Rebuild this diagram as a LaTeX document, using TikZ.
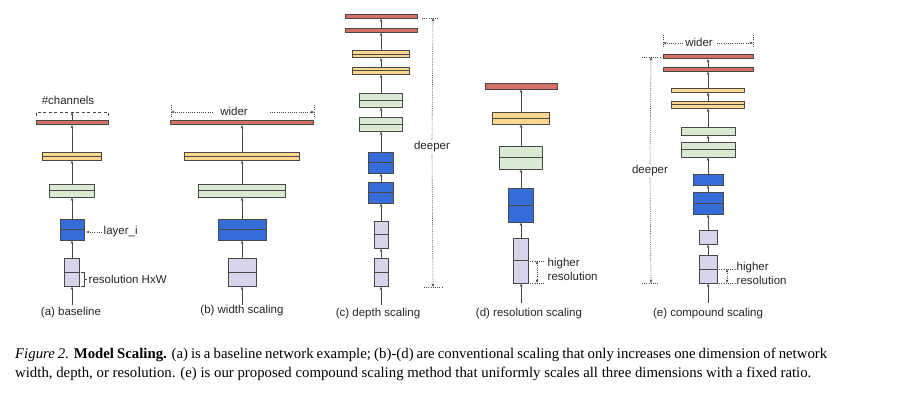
\documentclass[tikz,border=0pt]{standalone}
\usepackage{fontspec}
\setmainfont{Liberation Serif}
\setsansfont{Liberation Sans}
\usetikzlibrary{arrows.meta}
\definecolor{redL}{RGB}{214,112,100}
\definecolor{yelL}{RGB}{253,216,140}
\definecolor{grnL}{RGB}{217,234,211}
\definecolor{bluL}{RGB}{52,108,218}
\definecolor{lavL}{RGB}{217,212,234}
\definecolor{edge}{RGB}{72,72,72}

\begin{document}
\begin{tikzpicture}[
  x=1pt, y=-1pt,
  >={Stealth[length=3.5pt,width=2.6pt]},
  lay/.style n args={3}{draw=edge, fill=#1, line width=0.9pt, inner sep=0pt,
                        minimum width=#2pt, minimum height=#3pt},
  twin/.style={path picture={\draw[edge, line width=0.9pt]
      (path picture bounding box.west) -- (path picture bounding box.east);}},
  flow/.style={draw=edge, line width=0.8pt, ->},
  dotline/.style={draw=edge, line width=0.6pt, dash pattern=on 1pt off 1.2pt},
  dashline/.style={draw=edge, line width=0.6pt, dash pattern=on 3pt off 2.5pt},
  lbl/.style={font=\sffamily\fontsize{11.5}{13.8}\selectfont, inner sep=1.5pt,
              text=black!85},
]
  \useasboundingbox[fill=white] (0,0) rectangle (904,398);

  % (a) baseline
  \coordinate (a0) at (72,305);
  \node[lay={lavL}{15}{28}, twin] (a1) at (72,272) {};
  \node[lay={bluL}{24}{21}, twin] (a2) at (72,229.5) {};
  \node[lay={grnL}{45}{13}, twin] (a3) at (72,190.5) {};
  \node[lay={yelL}{59}{8}, twin] (a4) at (72,156) {};
  \node[lay={redL}{72}{4}] (a5) at (72,122.5) {};

  % (b) width scaling
  \coordinate (b0) at (242,305);
  \node[lay={lavL}{28}{28}, twin] (b1) at (242,272) {};
  \node[lay={bluL}{48}{21}, twin] (b2) at (242,229.5) {};
  \node[lay={grnL}{87}{13}, twin] (b3) at (242,190.5) {};
  \node[lay={yelL}{115}{8}, twin] (b4) at (242,156) {};
  \node[lay={redL}{143}{4}] (b5) at (242,122.5) {};

  % (c) depth scaling
  \coordinate (c0) at (381,305);
  \node[lay={lavL}{14}{28}, twin] (c1) at (381,272) {};
  \node[lay={lavL}{14}{27}, twin] (c2) at (381,234.5) {};
  \node[lay={bluL}{25}{21}, twin] (c3) at (381,192.5) {};
  \node[lay={bluL}{25}{21}, twin] (c4) at (381,162.5) {};
  \node[lay={grnL}{43}{14}, twin] (c5) at (381,124) {};
  \node[lay={grnL}{43}{14}, twin] (c6) at (381,100) {};
  \node[lay={yelL}{57}{7}, twin] (c7) at (381,70.5) {};
  \node[lay={yelL}{57}{7}, twin] (c8) at (381,54) {};
  \node[lay={redL}{72}{4}] (c9) at (381,30) {};
  \node[lay={redL}{72}{4}] (c10) at (381,16) {};

  % (d) resolution scaling
  \coordinate (d0) at (521,303);
  \node[lay={lavL}{15}{45}, twin] (d1) at (521,260.5) {};
  \node[lay={bluL}{25}{34}, twin] (d2) at (521,205) {};
  \node[lay={grnL}{43}{23}, twin] (d3) at (521,157.5) {};
  \node[lay={yelL}{57}{12}, twin] (d4) at (521,118) {};
  \node[lay={redL}{72}{6}] (d5) at (521,86) {};

  % (e) compound scaling
  \coordinate (e0) at (708,303);
  \node[lay={lavL}{18}{28}, twin] (e1) at (708,269) {};
  \node[lay={lavL}{18}{14}] (e2) at (708,237) {};
  \node[lay={bluL}{30}{22}, twin] (e3) at (708,203) {};
  \node[lay={bluL}{30}{11}] (e4) at (708,179.5) {};
  \node[lay={grnL}{54}{15}, twin] (e5) at (708,149.5) {};
  \node[lay={grnL}{54}{8}] (e6) at (708,131) {};
  \node[lay={yelL}{73}{7}, twin] (e7) at (708,104.5) {};
  \node[lay={yelL}{73}{4}] (e8) at (708,90) {};
  \node[lay={redL}{90}{4}] (e9) at (708,69) {};
  \node[lay={redL}{90}{4}] (e10) at (708,56.5) {};

  % arrows between layers
  \foreach \c/\n in {a/5, b/5, c/10, d/5, e/10}
    \foreach \i in {1,...,\n} {
      \pgfmathtruncatemacro{\j}{\i-1}
      \draw[flow] (\c\j) -- (\c\i);
    }

  % annotations (a)
  \node[lbl] (chan) at (68,100) {\#channels};
  \coordinate (chL) at (36,112);
  \coordinate (chR) at (108,112);
  \draw[dashline] (36,116) -- (chL) -- (chR) -- (108,116);
  \draw[flow] (a5) -- (a5 |- chL);
  \node[lbl, anchor=west] (layi) at (102,232) {layer\_i};
  \draw[dotline, ->] (layi.west) -- (86,232);
  \node[lbl, anchor=west] (resa) at (87,279) {resolution HxW};
  \draw[edge, line width=0.6pt] (81,272) -- (84,272) -- (84,286) -- (81,286);
  \draw[edge, line width=0.6pt] (84,279) -- (resa.west);

  % annotations (b)
  \node[lbl] (wb) at (234,111) {wider};
  \draw[dotline] (171,105) -- (171,117);
  \draw[dotline] (314,105) -- (314,117);
  \draw[dotline, ->] (213,112) -- (171,112);
  \draw[dotline, ->] (270,112) -- (314,112);

  % annotations (c)
  \node[lbl] (dc) at (432,147) {deeper};
  \draw[dotline] (422,18) -- (439,18);
  \draw[dotline] (424,287) -- (442,287);
  \draw[dotline, ->] (dc.north) -- (433,18);
  \draw[dotline, ->] (dc.south) -- (433,287);

  % annotations (d)
  \node[lbl, anchor=west, align=left] (hrd) at (546,269) {higher\\resolution};
  \draw[dotline] (528,261) -- (545,261);
  \draw[dotline] (528,283) -- (545,283);
  \draw[dotline, <->] (537,261) -- (537,283);

  % annotations (e)
  \node[lbl] (we) at (699,42) {wider};
  \draw[dotline] (663,35) -- (663,48);
  \draw[dotline] (753,35) -- (753,48);
  \draw[dotline, ->] (683,43) -- (663,43);
  \draw[dotline, ->] (717,43) -- (753,43);
  \node[lbl] (de) at (650,171) {deeper};
  \draw[dotline] (642,57) -- (660,57);
  \draw[dotline] (642,283) -- (659,283);
  \draw[dotline, ->] (de.north) -- (651,57);
  \draw[dotline, ->] (de.south) -- (651,283);
  \node[lbl, anchor=west, align=left] (hre) at (735,273) {higher\\resolution};
  \draw[dotline] (717,269) -- (736,269);
  \draw[dotline] (717,283) -- (736,283);
  \draw[dotline, <->] (727,269) -- (727,283);

  % sub-captions
  \node[lbl] (capa) at (71,313) {(a) baseline};
  \node[lbl] (capb) at (242,311) {(b) width scaling};
  \node[lbl] (capc) at (378,314) {(c) depth scaling};
  \node[lbl] (capd) at (529,314) {(d) resolution scaling};
  \node[lbl] (cape) at (708,314) {(e) compound scaling};

  % figure caption
  \node[anchor=north west, text width=812pt, align=justify, inner sep=0pt,
        font=\fontsize{14.8}{18.4}\selectfont] (fig) at (15,348) {%
    \textit{Figure 2.} \textbf{Model Scaling.} (a) is a baseline network
    example; (b)-(d) are conventional scaling that only increases one
    dimension of network\linebreak width, depth, or resolution. (e) is our
    proposed compound scaling method that uniformly scales all three
    dimensions with a fixed ratio.};
\end{tikzpicture}
\end{document}
